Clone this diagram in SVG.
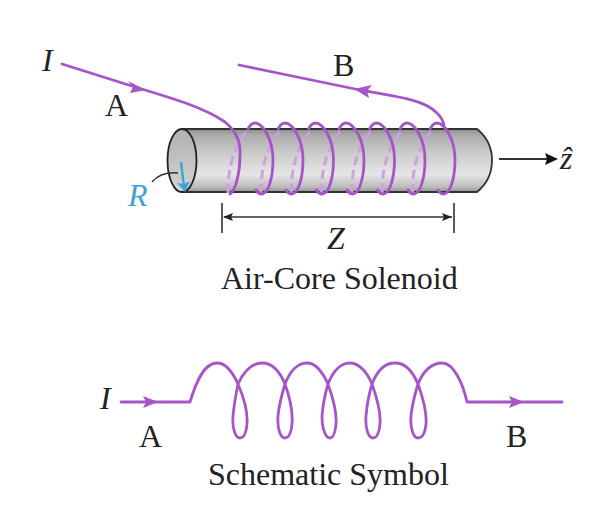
<svg xmlns="http://www.w3.org/2000/svg" width="606" height="516" viewBox="0 0 606 516">
<style>
.t{font-family:"Liberation Serif","Times New Roman",serif;font-size:32px;fill:#222}
.i{font-style:italic}
.w{fill:none;stroke:#a655c8;stroke-width:2.8;stroke-linecap:round;stroke-linejoin:round}
.d{fill:none;stroke:#cf9fe0;stroke-width:3;stroke-dasharray:9 5}
.k{fill:none;stroke:#333;stroke-width:1.6}
.h{fill:#a655c8}
</style>
<defs>
<linearGradient id="g" x1="0" y1="0" x2="0" y2="1">
<stop offset="0" stop-color="#8c8c8c"/><stop offset="0.1" stop-color="#acacac"/><stop offset="0.35" stop-color="#c8c8c8"/><stop offset="0.72" stop-color="#e6e6e6"/><stop offset="0.92" stop-color="#bcbcbc"/><stop offset="1" stop-color="#909090"/>
</linearGradient>
<linearGradient id="e" x1="0" y1="0" x2="0" y2="1"><stop offset="0" stop-color="#b0b0b0"/><stop offset="1" stop-color="#d4d4d4"/></linearGradient>
<path id="back" d="M228 193C228 170 232 150 247 131"/>
<path id="turn" d="M248 129C250 125 252 123 255 123C262 123 273 138 273 160C273 176 269 193 262 194C258 194 257 192 256 190"/>
<marker id="ka" markerWidth="12" markerHeight="10" refX="10" refY="4" orient="auto" markerUnits="userSpaceOnUse"><path d="M0 0L10 4L0 8L2 4Z" fill="#222"/></marker>
</defs>
<g id="solenoid">
<path d="M182 129H477C487 137 492 148 492 160C492 172 487 184 477 192H182Z" fill="url(#g)" stroke="#333" stroke-width="1.8"/>
<ellipse cx="182" cy="160.500" rx="14.500" ry="31.500" fill="url(#e)" stroke="#222" stroke-width="1.8"/>
</g>
<g id="radius">
<path d="M152 182C158 175 166 172 178 173" fill="none" stroke="#333" stroke-width="1.5"/>
<path d="M181 162L184 187" fill="none" stroke="#3fa3d8" stroke-width="2.4"/>
<path d="M177 183L185 192L190 181L184 184Z" fill="#3fa3d8"/>
<text class="t i" x="128" y="206" style="fill:#3fa3d8">R</text>
</g>
<g id="connectors">
<g id="coil-back">
<use href="#back" class="d"/><use href="#back" class="d" x="33"/><use href="#back" class="d" x="63.300"/><use href="#back" class="d" x="93.600"/><use href="#back" class="d" x="123.900"/><use href="#back" class="d" x="154.200"/><use href="#back" class="d" x="184.500"/>
</g>
<g id="coil-front">
<path class="w" d="M62 64L135 87C175 99 205 108 225 122C236 131 241 142 240 155C240 172 236 190 230 194"/>
<use href="#turn" class="w"/><use href="#turn" class="w" x="30"/><use href="#turn" class="w" x="60.500"/><use href="#turn" class="w" x="91"/><use href="#turn" class="w" x="121.500"/><use href="#turn" class="w" x="152"/><use href="#turn" class="w" x="182"/>
<path class="w" d="M239 65L360 90C400 97 425 100 437 113C441 117 443 120 444 125"/>
<path class="h" d="M128 81L146 90L130 93L133 87Z"/>
<path class="h" d="M372 85L354 89L369 98L367 91Z"/>
</g>
<g id="dimension">
<path class="k" d="M222 203V233M454 203V233"/>
<path class="k" d="M224 217H452" marker-end="url(#ka)"/>
<path d="M223 217L233 213L231 217L233 221Z" fill="#222"/>
</g>
<path class="k" d="M499 159H553" style="stroke-width:2"/>
<path d="M545 153L558 159L545 165L547 159Z" fill="#111"/>
<g id="symbol">
<path class="w" d="M121 402H190C196 382 204 363 217 363C226 363 233 373 238 384C244 398 248 412 247 424C246 434 243 438 240 438C236 438 232 430 233 416C234 404 236 394 238 384C244 371 252 363 262 363C272 363 280 372 285 384C290 398 293 412 292 424C291 434 288 438 285 438C281 438 277 430 278 416C279 404 282 394 285 384C290 371 298 363 307 363C316 363 323 373 328 384C333 398 337 412 336 424C335 434 333 438 330 438C326 438 322 430 322 416C323 404 325 394 328 384C333 371 341 363 350 363C359 363 367 372 372 384C377 398 381 412 380 424C379 434 376 438 373 438C369 438 365 430 366 416C367 404 369 394 372 384C377 371 385 363 395 363C405 363 413 372 418 384C423 398 427 412 426 424C425 434 422 438 418 438C414 438 410 430 411 416C412 404 415 394 418 384C423 371 432 363 442 363C454 363 463 384 467 402H562"/>
<path class="h" d="M143 396L158 402L143 408L146 402Z"/>
<path class="h" d="M509 396L524 402L509 408L512 402Z"/>
</g>
</g>
<g id="labels">
<text class="t i" x="42" y="71">I</text>
<text class="t" x="105" y="116">A</text>
<text class="t" x="333" y="76">B</text>
<text class="t i" x="327" y="249">Z</text>
<text class="t" x="221" y="289">Air-Core Solenoid</text>
<text class="t i" x="560" y="169">ẑ</text>
<text class="t i" x="100" y="409">I</text>
<text class="t" x="139" y="447">A</text>
<text class="t" x="506" y="447">B</text>
<text class="t" x="208" y="485">Schematic Symbol</text>
</g>
</svg>
